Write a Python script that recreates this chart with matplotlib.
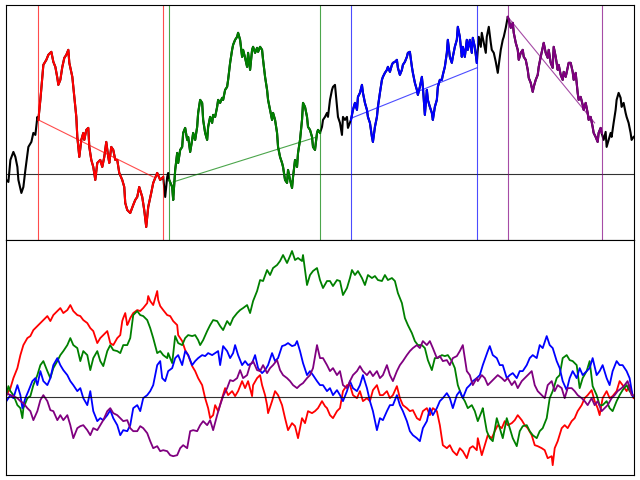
import numpy as np
import matplotlib
matplotlib.use('Agg')
import matplotlib.pyplot as plt

# top panel: one walk, pieces of it highlighted
walk_x = [0, 2, 4, 7, 9, 11, 12, 15, 17, 19, 22, 25, 27, 29, 31,
          32, 34, 36, 37, 40, 42, 45, 47, 49, 51, 52, 54, 56, 58, 60, 62, 63, 66, 68, 70, 71, 73, 75, 77, 78,
          80, 82, 83, 85, 87, 89, 91, 94, 96, 98, 100, 102, 103, 105, 107, 109, 111, 113, 116, 118, 119, 121,
          124, 127, 129, 131, 133, 136, 138, 140, 142, 145, 147, 149, 151, 154, 157,
          159, 161, 162,
          163, 166, 167, 169, 171, 172, 174, 176, 177, 179, 181, 182, 184, 186, 187, 189, 191, 192, 194, 196,
          197, 199, 201, 202, 204, 206, 207, 209, 211, 212, 214, 216, 217, 219, 221, 222, 224, 226, 227, 229,
          231, 232, 234, 236, 237, 239, 241, 242, 244, 246, 247, 249, 251, 252, 254, 256, 257, 259, 261, 262,
          264, 266, 267, 269, 271, 272, 274, 276, 277, 279, 281, 282, 284, 286, 287, 289, 291, 292, 294, 296,
          297, 299, 301, 302, 304, 306, 307, 309, 311, 312, 314,
          316, 317, 319, 321, 322, 324, 326, 327, 329, 331, 332, 334, 336, 337, 339, 341, 342,
          345, 347, 349, 351, 352, 354, 356, 357, 359, 361, 362, 364, 366, 367, 369, 371, 372, 374, 376, 377,
          379, 381, 382, 384, 386, 387, 389, 391, 392, 394, 396, 397, 399, 401, 402, 404, 406, 407, 409, 411,
          412, 414, 416, 417, 419, 421, 422, 424, 426, 427, 429, 431, 432, 434, 436, 437, 439, 441, 442, 444,
          446, 447, 449, 451, 452, 454, 456, 457, 459, 461, 462, 464, 466, 467, 469, 471,
          472, 473, 475, 476, 478, 480, 481, 483, 485, 486, 488, 490, 492, 493, 495, 497, 498, 500,
          502, 503, 505, 507, 508, 510, 512, 513, 515, 517, 518, 520, 522, 523, 525, 527, 528, 530, 532, 533,
          535, 537, 538, 540, 542, 543, 545, 547, 548, 550, 552, 553, 555, 557, 558, 560, 562, 563, 565, 567,
          568, 570, 572, 573, 575, 577, 578, 580, 582, 583, 585, 587, 588, 590, 592, 593, 595, 596,
          598, 600, 601, 603, 605, 606, 608, 610, 611, 613, 615, 616, 618, 620, 621, 623, 625, 626, 628]
walk_y = [-6, -8, 14, 22, 17, 7, -6, -19, -13, 4, 27, 32, 41, 39, 57,
          54, 74, 97, 109, 114, 119, 122, 112, 107, 96, 89, 94, 107, 116, 119, 124, 111, 97, 77, 57, 37, 17, 34, 41, 34,
          44, 46, 27, 14, 7, -6, 11, 14, 7, 17, 32, 17, 11, 27, 24, 14, 14, 1, -6, -13, -29, -36,
          -39, -31, -26, -23, -13, -23, -36, -53, -33, -19, -9, -4, 1, -6, -3,
          -23, -3, 1,
          -6, -13, -26, 4, 21, 11, 24, 27, 41, 46, 34, 37, 22, 34, 41, 34, 47, 61, 74, 71,
          54, 41, 34, 47, 57, 51, 59, 57, 67, 74, 71, 76, 74, 84, 87, 94, 111, 124, 129, 134,
          137, 141, 134, 117, 124, 116, 107, 121, 104, 124, 127, 121, 126, 122, 127, 124, 114, 97, 84, 74,
          64, 54, 61, 54, 41, 27, 17, 11, 7, -6, -9, 4, -6, -14, -3, 14, 7, 21, 34, 54,
          71, 67, 57, 47, 44, 37, 27, 24, 41, 44, 41,
          47, 54, 57, 61, 57, 74, 84, 87, 89, 67, 57, 51, 39, 57, 54, 57, 46,
          54, 64, 71, 64, 77, 81, 89, 81, 71, 64, 57, 51, 37, 32, 47, 57, 67, 81, 94, 97,
          101, 104, 107, 102, 109, 111, 112, 114, 106, 99, 104, 109, 112, 117, 121, 122, 107, 101, 91, 84,
          79, 87, 97, 87, 59, 84, 74, 67, 61, 54, 67, 74, 87, 94, 94, 99, 107, 121, 134, 117,
          111, 117, 127, 134, 147, 137, 117, 127, 117, 134, 124, 134, 121, 136, 127, 111,
          124, 137, 127, 141, 131, 121, 137, 147, 131, 124, 121, 112, 101, 109, 124, 134, 137, 146,
          157, 154, 146, 151, 141, 131, 124, 114, 121, 124, 117, 114, 104, 96, 91, 82, 87, 94, 99, 107,
          117, 126, 131, 121, 116, 124, 111, 106, 127, 117, 104, 109, 99, 94, 102, 97, 106, 111, 111, 102,
          94, 101, 81, 74, 77, 69, 64, 71, 61, 54, 57, 47, 41, 37, 32, 41, 46, 41,
          34, 42, 27, 34, 41, 37, 51, 64, 74, 81, 76, 67, 71, 61, 57, 51, 41, 34, 37]

seg_start = [32, 163, 345, 502]
seg_end = [157, 314, 471, 596]
seg_colors = ['red', 'green', 'blue', 'purple']

# thin straight lines across each highlighted piece
chord_x0 = [32, 167, 346, 502]
chord_y0 = [54, -8, 56, 157]
chord_x1 = [147, 311, 471, 589]
chord_y1 = [-3, 37, 106, 51]

# bottom panel: four walks pinned near zero
red_x = [0, 4, 7, 11, 14, 17, 21, 24, 27, 31, 34, 37, 41, 44, 47, 51, 54, 57, 61, 64, 67, 71, 74, 77, 81, 84,
         87, 91, 94, 97, 101, 104, 107, 111, 114, 116, 117, 119, 121, 122, 124, 127, 131, 134, 137, 141, 142,
         144, 147, 151, 152, 154, 157, 161, 164, 167, 171, 172, 176, 179, 182, 186, 189, 192, 196, 199, 202,
         204, 207, 209, 212, 216, 219, 222, 226, 229, 232, 236, 239, 242, 246, 247, 251, 254, 256, 259, 261,
         262, 266, 269, 272, 276, 279, 282, 286, 289, 292, 296, 299, 302, 306, 309, 312, 316, 319, 321, 324,
         327, 331, 334, 337, 341, 344, 347, 351, 354, 357, 361, 364, 367, 371, 374, 377, 381, 384, 387, 391,
         394, 397, 401, 404, 407, 411, 414, 417, 421, 424, 427, 431, 434, 437, 441, 444, 447, 451, 454, 457,
         461, 464, 467, 471, 472, 476, 479, 482, 486, 489, 492, 496, 499, 502, 506, 509, 512, 516, 519, 522,
         526, 529, 532, 536, 539, 542, 546, 547, 549, 552, 556, 559, 562, 566, 569, 572, 576, 579, 582, 586,
         589, 592, 594, 597, 601, 604, 607, 611, 614, 617, 621, 624, 628]
red_y = [2, 9, 19, 29, 42, 52, 59, 61, 67, 71, 74, 77, 81, 76, 82, 86, 89, 84, 87, 92, 86, 82, 81, 77, 74, 69,
         66, 54, 59, 62, 66, 54, 52, 59, 62, 76, 79, 84, 72, 74, 79, 84, 87, 86, 89, 94, 101,
         96, 92, 106, 97, 91, 87, 82, 81, 76, 72, 62, 56, 47, 42, 31, 26, 19, 12, -1, -11,
         -21, -18, -8, -14, -1, 9, 2, 6, 1, 6, 16, 9, 16, 1, 12, 19, 22, 12, 2, -8,
         -16, -4, 6, 2, -8, -21, -33, -26, -29, -41, -21, -26, -14, -16, -14, -11, -4, -9, -11, -18,
         -21, -14, -11, 6, 12, 12, 2, -1, 6, -4, -1, -4, 7, 12, 2, 2, 6, -1, 2, 11,
         -1, -8, -11, -14, -13, -21, -23, -14, -11, -18, -11, -14, -28, -48, -51, -48, -54, -58, -51, -54,
         -61, -51, -49, -53, -41, -58, -48, -38, -41, -34, -28, -31, -24, -28, -26, -23, -18, -23, -28, -31,
         -38, -48, -49, -51, -53, -61, -59, -68, -51, -44, -31, -28, -31, -24, -21, -14, -8, -1, 2, 7,
         -4, -11, -18, -1, 6, -1, 1, 6, 16, 12, 6, 12, -1]

green_x = [0, 2, 4, 7, 11, 14, 16, 17, 21, 24, 27, 31, 34, 37, 41, 44, 47, 51, 54, 57, 61, 64, 67, 71, 74, 77,
           81, 84, 87, 91, 94, 97, 101, 104, 107, 111, 114, 117, 121, 124, 127, 131, 134, 137, 141, 144, 147,
           151, 154, 157, 161, 162, 166, 169, 172, 176, 179, 182, 186, 189, 192, 194, 197, 201, 204, 207, 211,
           214, 217, 221, 224, 227, 231, 234, 237, 241, 244, 247, 251, 254, 257, 261, 264, 267, 271, 274, 277,
           281, 284, 286, 289, 292, 296, 297, 301, 304, 307, 311, 314, 317, 321, 324, 327, 331, 334, 337, 341,
           344, 346, 349, 352, 356, 359, 362, 366, 369, 372, 376, 379, 382, 386, 389, 392, 396, 399, 402, 406,
           409, 412, 416, 419, 422, 426, 429, 432, 436, 439, 442, 446, 449, 452, 456, 459, 462, 466, 469, 472,
           476, 477, 481, 484, 487, 491, 494, 497, 501, 504, 507, 511, 514, 517, 521, 524, 527, 531, 534, 537,
           541, 544, 547, 551, 554, 557, 561, 564, 567, 571, 574, 577, 581, 584, 587, 591, 594, 597, 601, 604,
           607, 611, 614, 617, 621, 624, 627]
green_y = [2, 11, 6, 2, -8, -11, -21, -11, -1, 1, 12, 22, 32, 36, 26, 19, 29, 36, 42, 46, 52, 59, 52, 49, 36, 46,
           42, 27, 39, 46, 36, 31, 46, 52, 47, 46, 44, 52, 52, 59, 82, 86, 82, 81, 77, 69, 59,
           44, 46, 42, 39, 44, 34, 61, 54, 52, 59, 62, 61, 62, 57, 52, 57, 66, 72, 77, 76,
           71, 67, 76, 72, 79, 84, 87, 89, 92, 84, 96, 106, 117, 116, 127, 122, 129, 132, 136, 142,
           134, 141, 146, 137, 139, 136, 142, 112, 122, 126, 129, 117, 109, 116, 116, 111, 117, 116, 102, 109,
           119, 127, 122, 126, 119, 112, 122, 119, 121, 117, 116, 122, 117, 119, 116, 104, 94, 79, 72, 64,
           56, 52, 52, 49, 37, 27, 39, 39, 42, 41, 42, 36, 29, 12, 1, -4, -11, -8, -14, -24,
           -14, -11, -34, -41, -44, -21, -31, -41, -21, -31, -41, -49, -34, -29, -28, -34, -38, -41, -34, -31,
           -21, -1, 6, 19, 22, 39, 42, 37, 36, 32, 9, 19, 26, 36, 11, 2, -8, -8, -4, -11,
           -14, -4, 2, 7, 12, 6, 2]

blue_x = [0, 4, 7, 11, 14, 16, 19, 22, 26, 29, 31, 34, 37, 41, 44, 47, 51, 54, 57, 61, 64, 67, 71, 74, 77, 81,
          84, 87, 91, 94, 97, 101, 104, 107, 111, 114, 117, 121, 124, 127, 131, 134, 137, 141, 144, 147, 151,
          154, 156, 159, 162, 166, 169, 172, 176, 179, 182, 186, 189, 192, 196, 199, 202, 206, 209, 212, 214,
          217, 221, 224, 227, 229, 232, 236, 239, 242, 246, 249, 252, 256, 259, 262, 266, 269, 272, 276, 279,
          282, 286, 289, 291, 294, 297, 301, 304, 307, 311, 314, 317, 321, 324, 327, 331, 334, 337, 341, 344,
          347, 351, 354, 357, 361, 364, 367, 371, 374, 377, 381, 384, 387, 391, 394, 397, 401, 404, 407, 411,
          414, 417, 421, 424, 427, 431, 434, 437, 441, 444, 447, 451, 454, 457, 461, 464, 467, 471, 474, 477,
          482, 484, 487, 491, 494, 497, 501, 504, 507, 511, 514, 517, 521, 524, 527, 531, 534, 537, 541, 544,
          547, 551, 554, 557, 561, 564, 567, 571, 574, 577, 581, 584, 587, 591, 594, 597, 601, 604, 607, 611,
          614, 617, 621, 624, 627]
blue_y = [-4, 2, -1, 12, 2, -11, -1, 6, 16, 19, 12, 26, 16, 12, 19, 32, 39, 32, 27, 22, 16, 12, 6, 9, -1, -8,
          6, -14, -24, -21, -23, -18, -13, -21, -28, -38, -33, -34, -28, -11, -8, -14, -1, 2, 6, 12, 32,
          36, 19, 16, 26, 29, 39, 42, 32, 46, 42, 32, 36, 39, 42, 41, 44, 42, 44, 46, 32,
          51, 46, 39, 44, 52, 42, 32, 36, 32, 34, 42, 29, 24, 27, 32, 44, 36, 39, 51, 52,
          54, 51, 52, 56, 46, 34, 22, 26, 22, 16, 12, 12, 6, 9, 2, 7, 2, -4, 6, 16,
          9, 6, 12, 22, 9, -4, -14, -33, -21, -23, -14, -8, -8, 2, -8, -14, -24, -34, -38, -41,
          -44, -31, -24, -11, -18, -11, -4, -1, 4, -1, -11, 2, 6, -1, 9, 12, 16, 19, 22, 32,
          46, 51, 42, 39, 32, 32, 19, 22, 24, 19, 26, 26, 32, 39, 42, 39, 52, 49, 61, 52,
          49, 36, 29, 16, 7, 19, 26, 19, 29, 22, 26, 29, 39, 22, 26, 32, 19, 12, 26, 36,
          32, 32, 26, 19, 1]

purple_x = [0, 4, 7, 11, 14, 17, 21, 24, 27, 31, 34, 37, 41, 44, 47, 51, 54, 57, 61, 64, 67, 71, 74, 77, 81,
            84, 87, 91, 94, 97, 101, 104, 107, 111, 114, 117, 121, 124, 127, 131, 134, 137, 141, 144, 147, 151,
            154, 157, 161, 164, 167, 171, 174, 177, 181, 184, 187, 191, 194, 197, 201, 204, 207, 211, 214, 217,
            221, 224, 227, 231, 234, 237, 241, 244, 247, 251, 254, 257, 261, 264, 267, 271, 274, 277, 281, 284,
            287, 291, 294, 297, 301, 304, 307, 311, 314, 317, 321, 324, 327, 331, 334, 337, 341, 344, 347, 351,
            354, 357, 361, 364, 367, 371, 374, 377, 381, 384, 387, 391, 394, 397, 401, 404, 407, 411, 414, 417,
            421, 424, 427, 431, 434, 437, 441, 444, 447, 451, 454, 457, 461, 464, 467, 471, 472, 476, 479, 482,
            486, 489, 492, 496, 499, 502, 506, 509, 512, 516, 519, 522, 526, 529, 532, 536, 539, 542, 546, 549,
            552, 556, 559, 562, 566, 569, 572, 576, 579, 582, 586, 589, 592, 596, 599, 602, 606, 609, 612, 616,
            619, 622, 626, 627]
purple_y = [4, 2, 1, -1, -4, -6, -11, -14, -23, -14, -3, 2, -4, -13, -14, -23, -18, -23, -18, -28, -41, -31, -29,
            -28, -33, -38, -31, -33, -28, -23, -14, -11, -16, -18, -21, -24, -23, -31, -34, -34, -29, -31, -36,
            -44, -51, -49, -54, -53, -54, -58, -59, -58, -51, -48, -51, -34, -33, -34, -28, -24, -28, -23, -33,
            -18, -8, 1, 9, 17, 16, 19, 27, 19, 22, 32, 36, 27, 26, 32, 24, 29, 32, 37, 27, 22, 19, 16,
            12, 9, 12, 14, 19, 22, 29, 52, 39, 39, 32, 26, 29, 22, 26, 12, 9, 16, 22, 26,
            31, 26, 22, 26, 21, 26, 19, 22, 32, 22, 16, 26, 32, 36, 42, 46, 49, 52, 49, 56,
            52, 56, 49, 39, 41, 36, 37, 32, 39, 41, 46, 52, 26, 22, 12, 19, 16, 22, 19, 12,
            16, 19, 22, 19, 16, 19, 12, 16, 9, 16, 19, 22, 26, 12, 6, 2, -1, 12, 16, 6,
            12, 9, -1, 9, 9, 6, 2, -1, -4, -8, -1, -8, -4, -14, -11, -8, -1, 2, 6, 9,
            12, 16, 2, 2]

fig, (ax1, ax2) = plt.subplots(2, 1, figsize=(6.4, 4.8), dpi=100)
plt.subplots_adjust(left=0.01, right=0.99, bottom=0.01, top=0.99, hspace=0)

wx = np.array(walk_x)
wy = np.array(walk_y)
ax1.plot(wx, wy, color='black', lw=1.5)
ax1.axhline(0, color='black', lw=0.8, alpha=0.8)
for i in range(len(seg_start)):
    m = (wx >= seg_start[i]) & (wx <= seg_end[i])
    ax1.plot(wx[m], wy[m], color=seg_colors[i], lw=1.5)
    ax1.axvline(seg_start[i], color=seg_colors[i], lw=0.8, alpha=0.7)
    ax1.axvline(seg_end[i], color=seg_colors[i], lw=0.8, alpha=0.7)
    ax1.plot([chord_x0[i], chord_x1[i]], [chord_y0[i], chord_y1[i]],
             color=seg_colors[i], lw=0.8, alpha=0.7)
ax1.set_xlim(0, 628)
ax1.set_ylim(-66, 169)

ax2.plot(red_x, red_y, color='red', lw=1.3)
ax2.plot(green_x, green_y, color='green', lw=1.3)
ax2.plot(blue_x, blue_y, color='blue', lw=1.3)
ax2.plot(purple_x, purple_y, color='purple', lw=1.3)
ax2.axhline(0, color='black', lw=0.8, alpha=0.8)
ax2.set_xlim(0, 628)
ax2.set_ylim(-78, 157)

for ax in (ax1, ax2):
    ax.set_xticks([])
    ax.set_yticks([])

plt.savefig('out.png')
